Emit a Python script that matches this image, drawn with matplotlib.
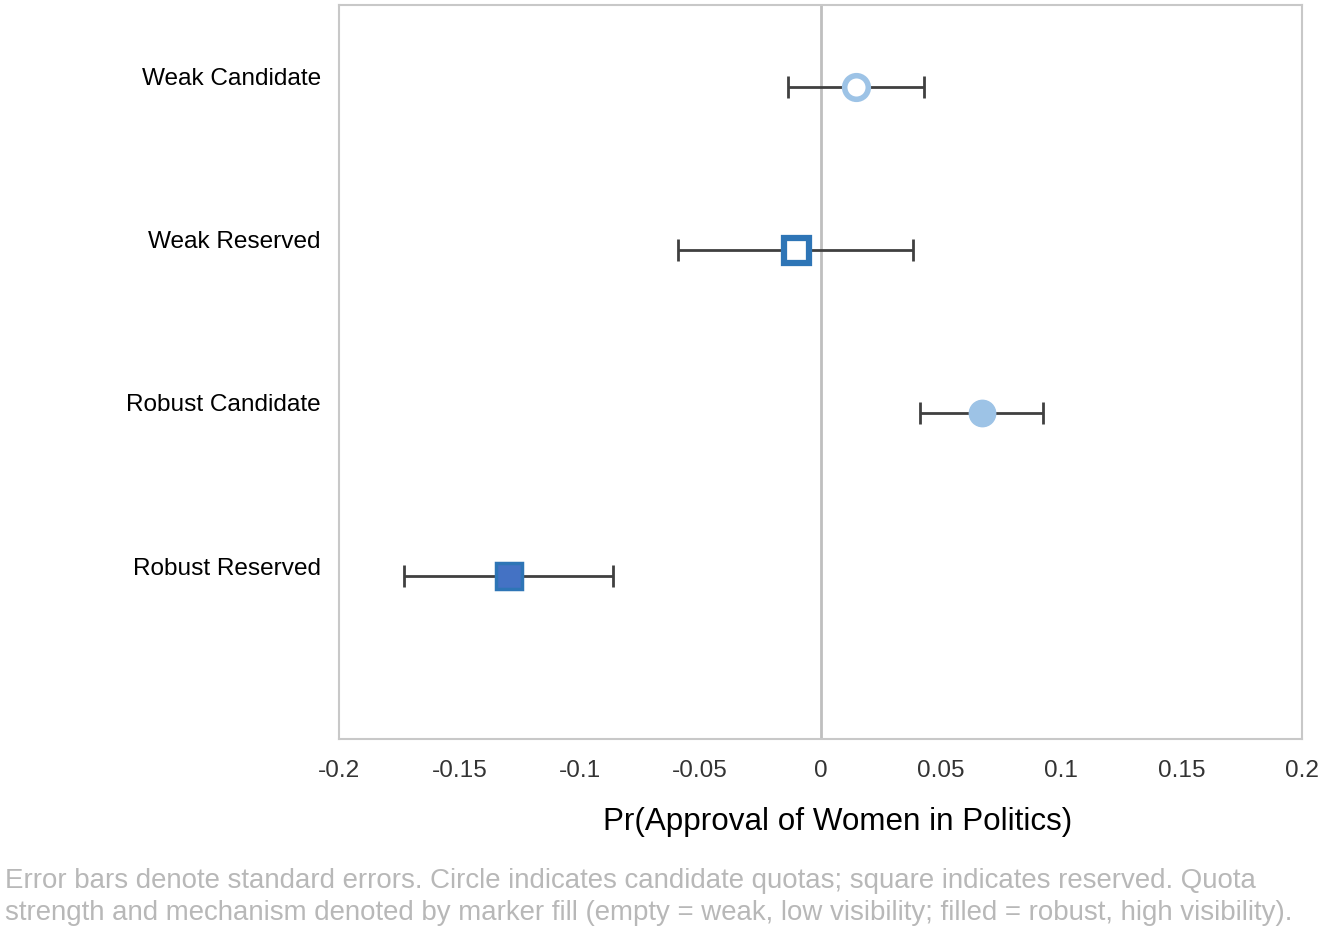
import matplotlib
matplotlib.use('Agg')
import matplotlib.pyplot as plt

plt.rcParams['font.family'] = ['Liberation Sans', 'DejaVu Sans']

# data
groups = ['Weak Candidate', 'Weak Reserved', 'Robust Candidate', 'Robust Reserved']
estimates = [0.0147, -0.0102, 0.0670, -0.1294]
std_errors = [0.0282, 0.0488, 0.0255, 0.0434]
xticks = [-0.2, -0.15, -0.1, -0.05, 0, 0.05, 0.1, 0.15, 0.2]
xtick_labels = ['-0.2', '-0.15', '-0.1', '-0.05', '0', '0.05', '0.1', '0.15', '0.2']

light_blue = '#9DC3E6'
dark_blue = '#2E75B6'
styles = [
    dict(marker='o', mfc='white', mec=light_blue, ms=17, mew=4),
    dict(marker='s', mfc='white', mec=dark_blue, ms=18, mew=4.5),
    dict(marker='o', mfc=light_blue, mec=light_blue, ms=19, mew=1),
    dict(marker='s', mfc='#4472C4', mec=dark_blue, ms=19, mew=2.5),
]

fig = plt.figure(figsize=(13.23, 9.31), dpi=100)
ax = fig.add_axes([339 / 1323, 1 - 739 / 931, 963 / 1323, 734 / 931])

ypos = [len(groups) - i for i in range(len(groups))]

ax.axvline(0, color='#bfbfbf', lw=2, zorder=1)
for y, est, se, st in zip(ypos, estimates, std_errors, styles):
    ax.errorbar(est, y, xerr=se, fmt='none', ecolor='#404040', elinewidth=2,
                capsize=8, capthick=2, zorder=2)
    ax.plot(est, y, linestyle='none', zorder=3, **st)

ax.set_xlim(-0.2, 0.2)
ax.set_ylim(0, 4.5)
ax.set_xticks(xticks)
ax.set_xticklabels(xtick_labels, fontsize=17.6, color='#333333')
ax.set_yticks([y + 0.06 for y in ypos])
ax.set_yticklabels(groups, fontsize=17.6, color='black')
ax.tick_params(axis='both', length=0)
ax.tick_params(axis='x', pad=15)
ax.tick_params(axis='y', pad=13)
for s in ax.spines.values():
    s.set_color('#c8c8c8')
    s.set_linewidth(1.5)

ax.set_xlabel('Pr(Approval of Women in Politics)', fontsize=22.6)
ax.xaxis.set_label_coords(0.518, -0.092)

fig.text(5 / 1323, 1 - 897 / 931,
         'Error bars denote standard errors. Circle indicates candidate quotas; square indicates reserved. Quota\n'
         'strength and mechanism denoted by marker fill (empty = weak, low visibility; filled = robust, high visibility).',
         fontsize=19.9, color='#b8b8b8', va='center', ha='left', linespacing=1.26)

fig.savefig('out.png', dpi=100)
